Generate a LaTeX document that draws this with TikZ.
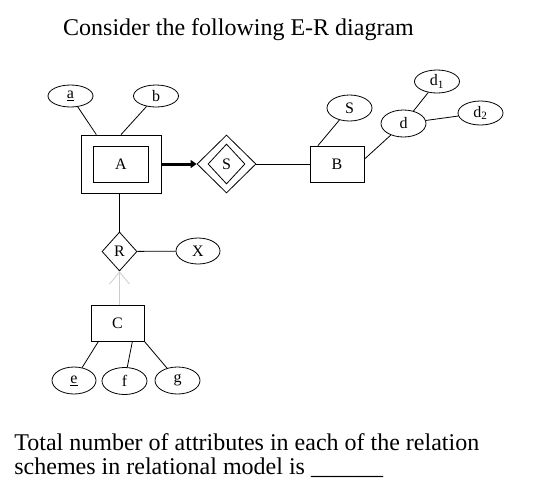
\documentclass[tikz,border=0pt]{standalone}
\usepackage{fontspec}
\setmainfont{Liberation Serif}
\usetikzlibrary{shapes.geometric}
\usetikzlibrary{arrows.meta}

\begin{document}
\begin{tikzpicture}[x=1pt, y=-1pt, line width=0.8pt,
  lbl/.style={font=\fontsize{16}{19}\selectfont},
  attr/.style={lbl, draw, ellipse, inner sep=0pt, minimum width=45, minimum height=25},
  ent/.style={lbl, draw, rectangle, inner sep=0pt, minimum width=54, minimum height=36},
  rel/.style={lbl, draw, diamond, inner sep=0pt},
  big/.style={font=\fontsize{24}{29}\selectfont, inner sep=0pt}]
\useasboundingbox (0, 0) rectangle (549, 483);

\node[big, anchor=base] (title) at (238.5, 35) {Consider the following E-R diagram};

% entity A, weak
\node[draw, minimum width=80, minimum height=58] (A) at (121, 164) {};
\node[ent, minimum width=55] (Ain) at (121, 164) {A};
\node[attr, minimum height=22] (a) at (70.5, 96) {\underline{a}};
\node[attr, minimum height=22] (b) at (156, 96) {b};
\draw (a) -- (A.130);
\draw (b) -- (A.north);

% identifying relationship S
\node[rel, minimum width=59, minimum height=58] (S) at (226.5, 164) {};
\node[rel, minimum width=37, minimum height=40] (Sin) at (226.5, 164) {S};
\draw[line width=3pt, -{Triangle[length=6pt, width=8pt]}] (A) -- (S);

% entity B
\node[ent] (B) at (337, 164) {B};
\node[attr, minimum height=26] (Sa) at (349.5, 108) {S};
\node[attr, minimum height=27] (d) at (403.5, 123.5) {d};
\node[attr, minimum height=23] (d1) at (437, 81.5) {d\textsubscript{1}};
\node[attr, minimum height=24] (d2) at (480.5, 113) {d\textsubscript{2}};
\draw (S) -- (B);
\draw (Sa) -- (B.136);
\draw (B.10) -- (d);
\draw (d) -- (d1);
\draw (d) -- (d2);

% relationship R
\node[rel, minimum width=35, minimum height=39] (R) at (119.5, 251.5) {R};
\node[attr, minimum width=44, minimum height=26] (X) at (198, 251) {X};
\draw (R |- A.south) -- (R.north);
\draw (R) -- (X);

% entity C
\node[ent, minimum width=53] (C) at (117.5, 323) {C};
\node[attr, minimum width=44, minimum height=27] (e) at (74, 380.5) {\underline{e}};
\node[attr, minimum height=27] (f) at (124.5, 381) {f};
\node[attr, minimum height=27] (g) at (177.5, 380.5) {g};
\draw[gray!40, -{Straight Barb[length=12pt, width=20pt]}] (R |- C.north) -- (R.south);
\draw (C.224) -- (e);
\draw (C.-51) -- (f);
\draw (C.south east) -- (g);

\node[big, anchor=base west] (q1) at (14, 450) {Total number of attributes in each of the relation};
\node[big, anchor=base west] (q2) at (14, 474) {schemes in relational model is \_\_\_\_\_\_};
\end{tikzpicture}
\end{document}
